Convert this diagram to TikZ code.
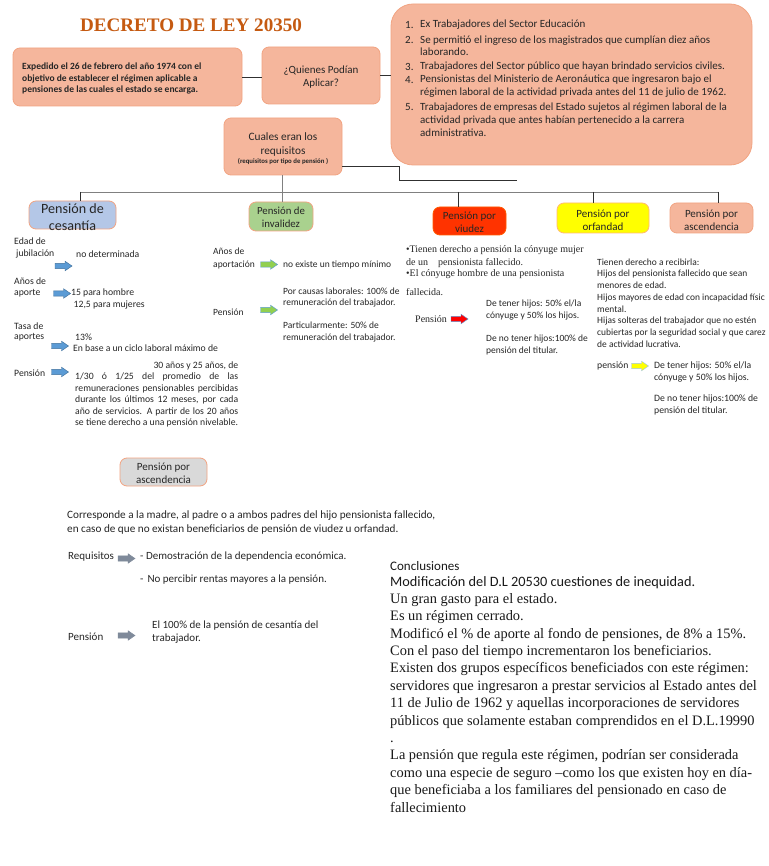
\documentclass[tikz,border=0pt]{standalone}
\usepackage{fontspec}
\setmainfont{Carlito}
\newfontfamily\serifA{Liberation Serif}
\definecolor{salmon}{HTML}{F5B69C}
\definecolor{salmonedge}{HTML}{F2A482}
\definecolor{titlecol}{HTML}{C55A11}
\definecolor{cesblue}{HTML}{B4C7E7}
\definecolor{invgreen}{HTML}{A9D18E}
\definecolor{viured}{HTML}{FF3300}
\definecolor{orfyellow}{HTML}{FFFF00}
\definecolor{ascgray}{HTML}{D9D9D9}
\definecolor{arrowblue}{HTML}{5B9BD5}
\definecolor{arrowgreen}{HTML}{92D050}
\definecolor{arrowred}{HTML}{FF0000}
\definecolor{arrowgray}{HTML}{7F8A9A}
\definecolor{arrowedge}{HTML}{41719C}
\definecolor{linecol}{HTML}{303030}
\tikzset{
  box/.style={draw=salmonedge, line width=0.8pt, rounded corners=7pt, fill=salmon, inner sep=0pt},
  boxtxt/.style={inner sep=0pt, align=center, text=black!85},
  txt/.style={inner sep=0pt, anchor=west, align=left, font=\fontsize{9.7}{11.7}\selectfont, text=black!85},
  listtxt/.style={inner sep=0pt, anchor=west, align=left, font=\fontsize{11}{13}\selectfont, text=black!85},
  serifsm/.style={inner sep=0pt, anchor=west, align=left, font=\serifA\fontsize{10}{13}\selectfont, text=black!85},
  concl/.style={inner sep=0pt, anchor=north west, align=left, font=\serifA\fontsize{14.4}{17.42}\selectfont, text=black!90},
  conn/.style={draw=linecol, line width=0.8pt},
  pics/barr/.style 2 args={code={
    \filldraw[fill=#1, draw=#2, line width=0.45pt] (-8.5,-2.6) -- (1.5,-2.6) -- (1.5,-4.8) -- (8.5,0) -- (1.5,4.8) -- (1.5,2.6) -- (-8.5,2.6) -- cycle;}}
}
\begin{document}
\begin{tikzpicture}[x=1pt,y=-1pt]
\useasboundingbox (0,0) rectangle (768,866);
\fill[white] (0,0) rectangle (768,866);

% title
\node[inner sep=0pt, font=\serifA\bfseries\fontsize{19.1}{21}\selectfont, text=titlecol] (title) at (191,25) {DECRETO DE LEY 20350};

% top boxes
\node[box, minimum width=229pt, minimum height=58pt] (exp) at (127.5,77) {};
\node[inner sep=0pt, anchor=west, align=left, font=\bfseries\fontsize{9.5}{11.6}\selectfont, text=black!85] (expt) at (22,78.5) {Expedido el 26 de febrero del año 1974 con el\\objetivo de establecer el régimen aplicable a\\pensiones de las cuales el estado se encarga.};

\node[box, minimum width=118pt, minimum height=57pt] (quien) at (321,75.5) {};
\node[boxtxt, font=\fontsize{11}{12.5}\selectfont] (quient) at (321,77) {¿Quienes Podían\\Aplicar?};

\node[box, rounded corners=22pt, minimum width=361pt, minimum height=161pt] (big) at (571.5,84.5) {};
\node[listtxt] (n1) at (405,25) {1.};
\node[listtxt] (l1) at (420,25) {Ex Trabajadores del Sector Educación};
\node[listtxt] (n2) at (405,40) {2.};
\node[listtxt, font=\fontsize{11}{12.3}\selectfont] (l2) at (420,46) {Se permitió el ingreso de los magistrados que cumplían diez años\\laborando.};
\node[listtxt] (n3) at (405,67) {3.};
\node[listtxt] (l3) at (420,67) {Trabajadores del Sector público que hayan brindado servicios civiles.};
\node[listtxt] (n4) at (405,80) {4.};
\node[listtxt] (l4) at (420,86.5) {Pensionistas del Ministerio de Aeronáutica que ingresaron bajo el\\régimen laboral de la actividad privada antes del 11 de julio de 1962.};
\node[listtxt] (n5) at (405,107) {5.};
\node[listtxt] (l5) at (420,120) {Trabajadores de empresas del Estado sujetos al régimen laboral de la\\actividad privada que antes habían pertenecido a la carrera\\administrativa.};

% requisitos
\node[box, minimum width=118pt, minimum height=57pt] (req) at (283,146.5) {};
\node[boxtxt, font=\fontsize{11.3}{14}\selectfont] (reqt) at (283,144.5) {Cuales eran los\\requisitos};
\node[boxtxt, font=\bfseries\fontsize{6.8}{7}\selectfont] (reqs) at (283,162) {(requisitos por tipo de pensión )};

% connectors top
\draw[conn] (exp.east) -- (exp.east -| quien.west);
\draw[conn] (quien.east) -- (big.west |- quien.east);
\coordinate (r1) at (399,166);
\coordinate (r2) at (399,180);
\coordinate (r3) at (517,180);
\draw[conn] (req.east |- r1) -- (r1) -- (r2) -- (r3);

% pension boxes
\node[box, fill=cesblue, minimum width=87pt, minimum height=28pt] (ces) at (72.5,215) {};
\node[boxtxt, font=\fontsize{14.1}{17}\selectfont] (cest) at (72.5,217) {Pensión de\\cesantía};
\node[box, fill=invgreen, minimum width=64pt, minimum height=29pt] (inv) at (281,216.5) {};
\node[boxtxt, font=\fontsize{10.8}{13}\selectfont] (invt) at (281,217) {Pensión de\\invalidez};
\node[box, fill=viured, draw=orange!70!red, minimum width=73pt, minimum height=28pt] (viu) at (469.5,221) {};
\node[boxtxt, font=\fontsize{11}{13}\selectfont] (viut) at (469.5,222) {Pensión por\\viudez};
\node[box, fill=orfyellow, draw=orange!55, minimum width=92pt, minimum height=30pt] (orf) at (603,218) {};
\node[boxtxt, font=\fontsize{11}{13}\selectfont] (orft) at (603,220) {Pensión por\\orfandad};
\node[box, minimum width=83pt, minimum height=30pt] (asc) at (711.5,218) {};
\node[boxtxt, font=\fontsize{11}{13}\selectfont] (asct) at (711.5,220) {Pensión por\\ascendencia};

% bus
\coordinate (bL) at (80,192);
\coordinate (bR) at (718,192);
\draw[conn, draw=gray] (bL) -- (bR);
\draw[conn] (bL) -- (bL |- ces.north);
\coordinate (bI) at (282,192);
\draw[conn, draw=gray] (req.south -| bI) -- (bI |- inv.north);
\coordinate (bV) at (458,192);
\draw[conn] (bV) -- (bV |- viu.north);
\coordinate (bO) at (593,192);
\draw[conn] (bO) -- (bO |- orf.north);
\draw[conn] (bR) -- (bR |- asc.north);

% cesantia details
\node[txt] (c1) at (14,248) {Edad de\\\hspace*{2pt}jubilación};
\node[txt] (c1v) at (76,254) {no determinada};
\pic (a1) at (63.5,266) {barr={arrowblue}{arrowedge}};
\node[txt] (c2) at (14,287.5) {Años de\\aporte};
\pic (a2) at (62,293.5) {barr={arrowblue}{arrowedge}};
\node[txt] (c2v) at (71,299) {15 para hombre\\\hspace*{2.5pt}12,5 para mujeres};
\node[txt, font=\fontsize{9.7}{10.8}\selectfont] (c3) at (14,332) {Tasa de\\aportes};
\node[txt] (c3v) at (75,337) {13\%};
\pic (a3) at (60,346) {barr={arrowblue}{arrowedge}};
\node[txt] (c4a) at (73,348) {En base a un ciclo laboral máximo de};
\node[txt] (c4) at (14,373) {Pensión};
\pic (a4) at (60,372) {barr={arrowblue}{arrowedge}};
\node[txt, anchor=north west, font=\fontsize{9.7}{11.5}\selectfont] (c4v) at (75,361.5) {\makebox[163pt][r]{30 años y 25 años, de}\\\makebox[163pt][s]{1/30 ó 1/25 del promedio de las}\\\makebox[163pt][s]{remuneraciones pensionables percibidas}\\\makebox[163pt][s]{durante los últimos 12 meses, por cada}\\\makebox[163pt][s]{año de servicios. A partir de los 20 años}\\se tiene derecho a una pensión nivelable.};

% invalidez details
\node[txt, font=\fontsize{9.5}{13}\selectfont] (i1) at (213,258.5) {Años de\\aportación};
\pic (ia1) at (269,264.5) {barr={arrowgreen}{arrowblue}};
\node[txt, font=\fontsize{9.5}{11.5}\selectfont] (i1v) at (283,265) {no existe un tiempo mínimo};
\node[txt, font=\fontsize{9.5}{11.5}\selectfont] (i2) at (213,312) {Pensión};
\pic (ia2) at (269,310) {barr={arrowgreen}{arrowblue}};
\node[txt, font=\fontsize{9.5}{11.5}\selectfont] (i2v) at (283,297.5) {Por causas laborales: 100\% de\\remuneración del trabajador.};
\node[txt, font=\fontsize{9.5}{12}\selectfont] (i3v) at (283,332) {Particularmente: 50\% de\\remuneración del trabajador.};

% viudez details
\node[serifsm] (v1) at (406,256.5) {•Tienen derecho a pensión la cónyuge mujer\\de un\hspace{10pt}pensionista fallecido.};
\node[serifsm] (v2) at (406,274) {•El cónyuge hombre de una pensionista};
\node[serifsm] (v3) at (406,292) {fallecida.};
\node[serifsm] (v4) at (415,319.5) {Pensión};
\pic (va) at (459.5,319) {barr={arrowred}{arrowblue}};
\node[txt, font=\fontsize{9.5}{12}\selectfont] (v5) at (486,310) {De tener hijos: 50\% el/la\\cónyuge y 50\% los hijos.};
\node[txt, font=\fontsize{9.5}{12}\selectfont] (v6) at (486,345) {De no tener hijos:100\% de\\pensión del titular.};

% orfandad details
\node[txt, font=\fontsize{9.45}{11.7}\selectfont] (o1) at (597,303) {Tienen derecho a recibirla:\\Hijos del pensionista fallecido que sean\\menores de edad.\\Hijos mayores de edad con incapacidad físic\\mental.\\Hijas solteras del trabajador que no estén\\cubiertas por la seguridad social y que carez\\de actividad lucrativa.};
\node[txt] (o2) at (597,366) {pensión};
\pic (oa) at (640,366) {barr={orfyellow}{arrowblue!60}};
\node[txt] (o3) at (654,372) {De tener hijos: 50\% el/la\\cónyuge y 50\% los hijos.};
\node[txt] (o4) at (654,405) {De no tener hijos:100\% de\\pensión del titular.};

% ascendencia (bottom)
\node[box, fill=ascgray, minimum width=87pt, minimum height=28pt] (asc2) at (163.5,472) {};
\node[boxtxt, font=\fontsize{11}{13}\selectfont] (asc2t) at (163.5,473) {Pensión por\\ascendencia};
\node[txt, font=\fontsize{11.2}{14}\selectfont] (b1) at (67,523) {Corresponde a la madre, al padre o a ambos padres del hijo pensionista fallecido,\\en caso de que no existan beneficiarios de pensión de viudez u orfandad.};
\node[txt, font=\fontsize{11}{13}\selectfont] (b2) at (68,557) {Requisitos};
\pic (ba1) at (126.5,558.5) {barr={arrowgray}{arrowgray}};
\node[txt, font=\fontsize{11}{13}\selectfont] (b2v) at (140,557) {- Demostración de la dependencia económica.};
\node[txt, font=\fontsize{11}{13}\selectfont] (b3v) at (140,580) {-\hspace{4pt}No percibir rentas mayores a la pensión.};
\node[txt, font=\fontsize{11}{13}\selectfont] (b4) at (68,637) {Pensión};
\pic (ba2) at (126.5,635.5) {barr={arrowgray}{arrowgray}};
\node[txt, font=\fontsize{11}{13}\selectfont] (b4v) at (152,632.5) {El 100\% de la pensión de cesantía del\\trabajador.};

% conclusions
\node[inner sep=0pt, anchor=west, font=\fontsize{13}{15}\selectfont, text=black!90] (k0) at (390,566.5) {Conclusiones};
\node[inner sep=0pt, anchor=west, font=\fontsize{14.3}{16}\selectfont, text=black!90] (k1) at (390,583) {Modificación del D.L 20530 cuestiones de inequidad.};
\node[concl] (k2) at (390,593) {Un gran gasto para el estado.\\Es un régimen cerrado.\\Modificó el \% de aporte al fondo de pensiones, de 8\% a 15\%.\\Con el paso del tiempo incrementaron los beneficiarios.\\Existen dos grupos específicos beneficiados con este régimen:\\servidores que ingresaron a prestar servicios al Estado antes del\\11 de Julio de 1962 y aquellas incorporaciones de servidores\\públicos que solamente estaban comprendidos en el D.L.19990\\.\\La pensión que regula este régimen, podrían ser considerada\\como una especie de seguro –como los que existen hoy en día-\\que beneficiaba a los familiares del pensionado en caso de\\fallecimiento};
\end{tikzpicture}
\end{document}
